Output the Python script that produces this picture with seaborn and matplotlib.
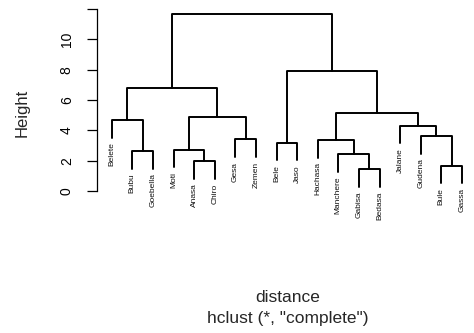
import numpy as np
import pandas as pd
import matplotlib
matplotlib.use("Agg")
import matplotlib.pyplot as plt
import seaborn as sns

# Leaves in display order
labels = ["Belete", "Bubu", "Goebella", "Moti", "Anasa", "Chiro", "Gesa", "Zemen",
          "Bele", "Jaso", "Hachasa", "Manchere", "Gabisa", "Bedasa", "Jalane",
          "Gudena", "Bule", "Gassa"]
# hclust-style merge table (negative = leaf index, positive = earlier merge)
merge_left = [-13, -17, -5, -12, -2, -4, -9, -11, -7, -16, -15, -1, 6, 8, 12, 7, 15]
merge_right = [-14, -18, -6, 1, -3, 3, -10, 4, -8, 2, 10, 5, 9, 11, 13, 14, 16]
heights = [1.43, 1.67, 1.97, 2.41, 2.63, 2.72, 3.18, 3.36, 3.40, 3.62, 4.30,
           4.67, 4.89, 5.15, 6.82, 7.89, 11.64]
y_ticks = [0, 2, 4, 6, 8, 10, 12]
y_tick_labels = ["0", "2", "4", "6", "8", "10", ""]

sns.set_theme(style="white")
plt.rcParams["font.family"] = ["Liberation Sans", "DejaVu Sans"]

hang = 0.1 * max(heights)
pos = {}
leaf_end = {}
rows = []
for k, (a, b, h) in enumerate(zip(merge_left, merge_right, heights), start=1):
    pts = []
    for c in (a, b):
        if c < 0:
            x = -c
            y0 = h - hang
            leaf_end[x] = y0
        else:
            x, y0 = pos[c]
        pts.append((x, y0))
    pos[k] = ((pts[0][0] + pts[1][0]) / 2, h)
    seg = [(pts[0][0], pts[0][1]), (pts[0][0], h), (pts[1][0], h), (pts[1][0], pts[1][1])]
    for j, (x, y) in enumerate(seg):
        rows.append(dict(seg=k, order=j, x=x, y=y))
df = pd.DataFrame(rows)

W, H = 474, 333
fig = plt.figure(figsize=(W / 100, H / 100), dpi=100)
fig.patch.set_facecolor("white")
ax_left_px = 96.7
ax = fig.add_axes([ax_left_px / W, 0, 1 - ax_left_px / W, 1])
ax.set_facecolor("white")

sns.lineplot(data=df, x="x", y="y", units="seg", estimator=None, sort=False,
             color="black", linewidth=1.4, ax=ax, legend=False)

for i, lab in enumerate(labels, start=1):
    ax.text(i, leaf_end[i] - 0.3, lab, rotation=90, ha="center", va="top",
            fontsize=6, color="#111111")

px_per_leaf = 20.6
x0 = 1 - (111.7 - ax_left_px) / px_per_leaf
ax.set_xlim(x0, x0 + (W - ax_left_px) / px_per_leaf)
ppu = 15.17
ax.set_ylim(-(H - 191) / ppu, 191 / ppu)

for s in ["top", "right", "bottom"]:
    ax.spines[s].set_visible(False)
ax.spines["left"].set_bounds(0, 12)
ax.spines["left"].set_linewidth(0.9)
ax.spines["left"].set_color("black")
ax.set_xticks([])
ax.set_yticks(y_ticks)
ax.set_yticklabels(y_tick_labels)
ax.tick_params(axis="y", left=True, length=7.5, width=0.9, direction="out",
               pad=9, labelsize=10, labelrotation=90, colors="black")
for lbl in ax.get_yticklabels():
    lbl.set_va("center")
ax.set_xlabel("")
ax.set_ylabel("")

fig.text(22 / W, 1 - 112.5 / H, "Height", rotation=90, ha="center", va="center", fontsize=12)
fig.text(288 / W, 1 - 297 / H, "distance", ha="center", va="center", fontsize=12.5)
fig.text(288 / W, 1 - 319 / H, 'hclust (*, "complete")', ha="center", va="center", fontsize=12.5)

fig.savefig("out.png", dpi=100, facecolor="white")
